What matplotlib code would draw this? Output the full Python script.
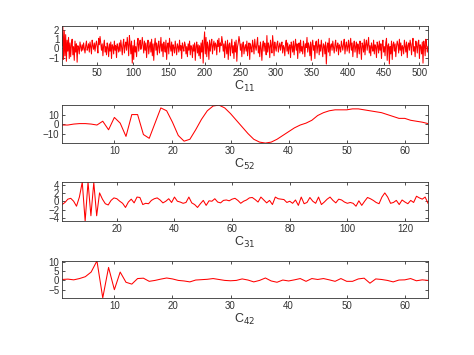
import numpy as np
import matplotlib
matplotlib.use('Agg')
import matplotlib.pyplot as plt

c11 = [
    0.3, 2.4, -1.2, 1.9, -0.8, 1.5, -1.4, 0.9, -0.3, 1.2, -1.1, 0.6, -0.9, 0.4, 1.0, -0.7,
    0.2, -1.3, 0.8, -0.4, 0.5, -1.5, 0.3, 0.1, -0.6, 0.7, 0.2, -0.3, 0.4, -0.2, 0.6, 0.0,
    -0.5, 0.3, 0.8, -0.2, 0.1, 0.5, -0.4, 0.7, 0.2, -0.6, 0.9, 0.3, -0.1, 0.6, -0.3, 0.4,
    0.8, 0.2, -0.5, 1.1, 0.4, 1.3, 0.6, -0.2, 0.5, -0.8, 0.3, 0.9, -0.4, 0.2, -0.7, 0.6,
    0.1, -0.9, 0.5, -0.3, 0.7, -1.1, 0.4, 0.2, -0.6, 0.8, -0.2, 0.3, -1.0, 0.5, 0.1, -0.4,
    0.6, -0.3, 0.9, 0.2, -0.7, 0.4, 1.0, -0.5, 0.3, 0.7, -0.2, 1.2, 0.4, -0.8, 1.4, 0.5,
    -0.6, 0.8, -1.6, 0.3, -1.2, 0.9, -0.4, 0.2, -0.9, 0.6, 1.1, -0.3, 0.5, 0.9, -0.1, 0.3,
    1.2, 0.4, -0.5, 0.8, -0.2, 0.6, -1.0, 0.3, 0.9, -0.6, 0.2, 0.7, -0.4, 1.0, -0.8, 0.5,
    -1.3, 0.4, 1.1, -0.2, 0.6, -0.7, 0.3, 0.8, -0.5, 0.2, 1.2, -0.3, 0.5, -0.9, 0.7, 0.1,
    -0.4, 0.9, -1.2, 0.3, 0.6, -0.6, 1.1, 0.2, -0.3, 0.7, -0.8, 0.4, 0.1, -0.5, 0.8, 0.0,
    -0.7, 0.5, 0.2, -0.4, 0.9, -0.2, 0.3, -1.1, 0.6, 0.1, -0.3, 0.7, 0.4, -0.6, 0.2, -0.9,
    0.5, -0.2, 0.8, -0.7, 0.3, 0.1, -1.0, 0.4, -0.3, 0.6, -1.3, 0.2, 0.7, -0.5, 0.4, -0.8,
    0.3, -1.1, 0.6, -0.4, 0.9, -1.6, 0.5, 1.8, -0.6, 1.2, -0.9, 0.7, 0.2, -1.2, 0.9, -0.3,
    0.5, 1.0, -0.6, 0.3, 0.8, -0.2, 0.6, 0.4, -0.7, 0.9, 0.2, 1.1, -0.4, 0.6, 0.3, 1.3,
    0.7, -0.3, 0.5, -1.0, 0.8, 0.1, -0.6, 0.9, -1.2, 0.4, 0.6, -0.8, 0.2, 1.0, -0.5, 0.3,
    -1.1, 0.7, -0.4, 0.9, -1.4, 0.2, 0.6, 1.3, 0.8, -0.2, 0.5, -0.9, 0.3, 0.7, -0.6, 0.1,
    0.4, -0.3, 0.8, -0.8, 0.2, 0.6, -1.2, 0.5, 0.1, -0.4, 0.9, 0.3, -0.6, 1.0, 0.2, -0.2,
    0.5, 1.2, -0.5, 0.3, -0.9, 0.7, 0.0, -1.3, 0.4, 0.8, -0.3, 0.6, 0.2, -0.7, 1.4, -0.4,
    0.6, 0.2, -1.0, 0.9, 0.3, -0.5, 1.4, 0.4, -0.8, 0.7, 0.1, -0.3, 0.5, 0.8, -0.4, 0.2,
    0.6, -0.2, 0.4, 0.7, -0.5, 0.3, 0.1, -0.8, 0.5, 0.9, -0.3, 0.6, -0.6, 0.2, 0.4, -1.0,
    0.7, 0.2, -0.4, 0.8, -0.7, 0.3, 1.0, -0.2, 0.5, -1.1, 0.4, 0.6, -0.5, 0.9, -0.3, 0.2,
    -0.6, 0.8, 0.3, -0.9, 0.5, 0.1, 1.2, -0.4, 0.6, 0.2, -0.8, 0.7, -1.3, 0.4, 0.9, -0.2,
    0.3, -1.1, 0.6, 0.8, -0.5, 0.2, 1.0, -0.7, 0.4, -0.3, 0.9, 0.1, -0.9, 0.5, 0.3, -0.6,
    0.7, -1.7, 0.2, 0.6, -0.4, 1.1, -0.8, 0.3, 0.5, -0.2, 0.8, 0.1, -0.5, 0.4, 0.9, -0.3,
    0.2, 0.6, -0.7, 0.4, 0.1, -0.4, 0.8, 0.3, -0.2, 0.5, 1.0, -0.6, 0.3, 0.7, -0.3, 0.2,
    0.9, -0.5, 0.4, 1.1, -0.2, 0.6, -0.9, 0.3, 0.8, -0.4, 0.2, 0.7, -1.0, 0.5, 0.1, -0.6,
    0.8, 0.2, -1.2, 0.6, 0.3, -0.4, 1.0, -0.7, 0.5, 0.9, -0.2, 0.4, 1.2, -0.5, 0.3, -0.8,
    0.6, 0.1, -0.3, 0.9, -0.6, 0.4, 0.2, -1.0, 0.7, 0.3, -0.5, 0.8, -0.2, 0.5, -1.1, 0.4,
    0.9, -0.4, 0.2, -0.8, 0.6, 1.1, -1.3, 0.3, 0.5, -1.7, 0.2, -0.6, 0.8, -1.2, 0.4, 0.7,
    -0.3, 0.5, -0.9, 0.2, 0.8, 0.4, -0.5, 1.0, -0.2, 0.6, -0.8, 0.3, 0.1, -0.6, 0.9, 0.2,
    -0.4, 0.7, -1.0, 0.3, 0.6, -0.2, 0.9, 0.4, -0.7, 0.5, 1.1, -0.3, 0.2, -0.9, 0.8, 0.3,
    -0.5, 0.6, 0.9, -1.1, 0.4, 0.2, -0.6, 0.7, -1.6, 0.8, 0.3, -0.8, 1.0, 0.4, -0.4, 0.2,
]

c52 = [
    -1, -1, 0, 0.5, 0.5, 0, -1, 3, -6, 7, 1, -13, 10, 10, -11, -15,
    1, 17, 14, 2, -12, -18, -16, -6, 5, 14, 19, 20, 17, 11, 4, -3,
    -10, -16, -19, -20, -19, -16, -12, -8, -4, -1, 1, 4, 9, 12, 14, 15,
    15, 15, 16, 16, 15, 14, 13, 12, 10, 8, 6, 6, 4, 3, 2, 0.5,
]

c31 = [
    -0.8, -0.3, 0.5, 0.7, 0.0, -1.2, 1.0, 4.6, -4.8, 4.6, -3.5, 4.5, -3.5, 2.0, 0.5, -0.6,
    -0.9, 0.2, 0.8, 0.6, 0.0, -0.5, -1.5, -0.2, 0.5, -0.4, 1.0, 0.9, -0.8, -0.5, -0.6, 0.2,
    0.6, 0.8, 0.3, -0.4, 0.0, 0.6, -0.3, 1.0, 0.0, -0.2, -0.5, -0.3, 1.0, -0.4, -0.8, -1.5,
    -0.6, 0.2, -1.0, 0.1, 0.0, 0.6, -0.2, -0.4, 0.2, 0.3, 0.1, 0.5, 0.7, 0.2, -0.5, 0.0,
    0.3, 0.8, 0.9, 0.4, -0.2, 1.0, 0.3, -0.4, 0.2, -0.8, 1.0, 0.6, 0.5, 0.4, -0.3, 0.0,
    -0.5, 0.3, -1.0, 1.0, -0.6, -0.3, 0.9, 0.0, -0.5, 1.0, -0.8, -0.2, 0.5, 1.0, 0.2, -0.4,
    0.5, 0.3, -0.2, -0.5, -0.3, -0.5, -1.2, 0.1, -1.0, 0.0, 0.9, 0.6, 0.2, -0.3, -0.6, 1.0,
    2.0, 1.0, -0.5, -0.3, 0.2, -0.8, 0.3, -0.2, -0.6, 0.2, -0.3, 1.2, 0.8, 0.5, 1.0, -0.5,
]

c42 = [
    0.5, 0.7, 0.3, 1, 2, 4.5, 10.5, -9.4, 7, -5, 4.5, -1, -2, 1, 1.2, -0.5,
    0, 0.7, 1.3, 0.8, 0, -0.3, -0.8, 0.2, 0.4, 0.6, 1, 0.5, 0, -0.2, 0, 0.8,
    0.2, -0.8, 0, 1.3, -0.3, -1, 0.2, -0.3, 0.3, 1, -0.5, 1, 0.5, 1, 0.3, -0.5,
    1, -0.5, -0.5, 0.8, 1.2, -1.5, 0.8, 0.5, 0, -0.8, 0.2, 0.3, 1, -0.2, 0.3, 0,
]

series = [
    (c11, 'C$_{11}$', (-1.8, 2.45), [-1, 0, 1, 2], np.arange(50, 501, 50)),
    (c52, 'C$_{52}$', (-20, 20), [-10, 0, 10], np.arange(10, 61, 10)),
    (c31, 'C$_{31}$', (-4.8, 4.6), [-4, -2, 0, 2, 4], np.arange(20, 121, 20)),
    (c42, 'C$_{42}$', (-9.4, 10.5), [-5, 0, 5, 10], np.arange(10, 61, 10)),
]

# axes boxes in figure fractions (left, bottom, width, height)
boxes = [
    (0.131, 0.817, 0.772, 0.110),
    (0.131, 0.597, 0.772, 0.107),
    (0.131, 0.377, 0.772, 0.110),
    (0.131, 0.161, 0.772, 0.104),
]

plt.rcParams['font.family'] = ['Liberation Sans', 'DejaVu Sans']
grey = '#333333'

fig = plt.figure(figsize=(4.74, 3.55), dpi=100)
for (vals, name, ylim, yt, xt), box in zip(series, boxes):
    ax = fig.add_axes(box)
    x = np.arange(1, len(vals) + 1)
    ax.plot(x, vals, color='red', linewidth=0.75)
    ax.set_xlim(1, len(vals))
    ax.set_ylim(*ylim)
    ax.set_xticks(xt)
    ax.set_yticks(yt)
    ax.tick_params(direction='in', length=2.5, width=0.6, labelsize=7,
                   colors=grey, top=True, right=True, pad=2)
    for s in ax.spines.values():
        s.set_color(grey)
        s.set_linewidth(0.6)
    ax.set_xlabel(name, fontsize=9, color=grey, labelpad=1)

fig.savefig('out.png', dpi=100)
